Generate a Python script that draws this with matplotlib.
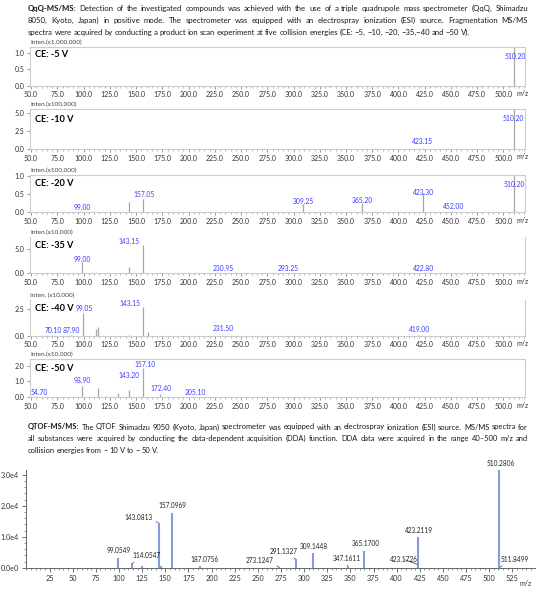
import matplotlib
matplotlib.use("Agg")
import matplotlib.pyplot as plt
from matplotlib.ticker import MultipleLocator, FixedLocator, FormatStrFormatter

plt.rcParams["font.family"] = ["Lato", "DejaVu Sans"]

# ---- QqQ product ion spectra (intensity in units of the panel scale) ----
ce_labels = ["CE: -5 V", "CE: -10 V", "CE: -20 V", "CE: -35 V", "CE: -40 V", "CE: -50 V"]
scale_labels = ["Inten.(x1,000,000)", "Inten.(x100,000)", "Inten.(x100,000)",
                "Inten.(x10,000)", "Inten. (x10,000)", "Inten.(x10,000)"]
y_tops = [1.19, 5.66, 1.03, 7.5, 3.34, 2.4]
y_ticks = [[0.0, 0.5, 1.0], [0.0, 2.5, 5.0], [0.0, 0.5, 1.0], [0.0, 5.0], [0.0, 2.5], [0.0, 1.0, 2.0]]

mz_05 = [510.20]
int_05 = [1.19]
mz_10 = [423.15, 510.20]
int_10 = [0.12, 5.66]
mz_20 = [99.00, 143.10, 157.05, 309.25, 365.20, 423.30, 452.00, 510.20]
int_20 = [0.03, 0.28, 0.37, 0.22, 0.26, 0.52, 0.02, 1.03]
mz_35 = [99.00, 143.15, 157.10, 230.95, 293.25, 422.80]
int_35 = [2.3, 1.25, 5.9, 0.08, 0.12, 0.08]
mz_40 = [70.10, 87.90, 99.05, 111.5, 113.5, 143.15, 157.10, 161.0, 231.50, 419.00]
int_40 = [0.06, 0.06, 2.1, 0.6, 0.84, 0.1, 2.72, 0.37, 0.06, 0.06]
mz_50 = [54.70, 98.90, 114.1, 121.4, 133.2, 143.20, 157.10, 172.40, 205.10]
int_50 = [0.04, 0.72, 0.57, 0.1, 0.27, 0.46, 1.84, 0.2, 0.04]

# peak labels: text, m/z where it is written, height where it is written
lab_05 = [("510.20", 511.0, 0.89)]
lab_10 = [("423.15", 422.7, 1.08), ("510.20", 509.4, 4.26)]
lab_20 = [("99.00", 99.2, 0.13), ("157.05", 157.6, 0.48), ("309.25", 309.3, 0.30),
          ("365.20", 365.5, 0.32), ("423.30", 423.6, 0.55), ("452.00", 452.2, 0.15),
          ("510.20", 510.3, 0.77)]
lab_35 = [("99.00", 98.8, 2.9), ("143.15", 143.3, 6.6), ("230.95", 232.6, 0.9),
          ("293.25", 295.0, 1.04), ("422.80", 423.6, 1.0)]
lab_40 = [("70.10", 71.2, 0.5), ("87.90", 88.7, 0.5), ("99.05", 100.7, 2.5),
          ("143.15", 144.3, 3.03), ("231.50", 233.1, 0.69), ("419.00", 419.6, 0.6)]
lab_50 = [("54.70", 57.9, 0.32), ("98.90", 99.2, 1.03), ("143.20", 143.6, 1.35),
          ("157.10", 158.5, 2.05), ("172.40", 173.5, 0.54), ("205.10", 206.2, 0.32)]

# ---- QTOF MS/MS spectrum ----
qtof_mz = [99.0549, 114.0547, 125.0, 143.0813, 145.0, 157.0969, 187.0756, 273.1247,
           291.1327, 309.1448, 347.1611, 365.1700, 423.1726, 423.2119, 510.2806, 511.8499]
qtof_int = [3250, 1400, 450, 14600, 700, 17800, 400, 300,
            2700, 4600, 700, 5500, 1000, 9800, 31600, 300]
# label text, written at (x, y), leader to the peak or not
qtof_lab = [("99.0549", 100, 5700, False), ("114.0547", 130, 3850, True),
            ("143.0813", 121, 16300, True), ("157.0969", 157.5, 20000, False),
            ("187.0756", 192, 2750, False), ("273.1247", 252, 2300, True),
            ("291.1327", 278, 5300, True), ("309.1448", 310, 6900, False),
            ("347.1611", 346, 2900, True), ("365.1700", 366.5, 7700, False),
            ("423.1726", 408, 2650, True), ("423.2119", 424, 11950, False),
            ("510.2806", 513, 33800, False), ("511.8499", 528, 2750, True)]

header_lines = [
    "QqQ-MS/MS: Detection of the investigated compounds was achieved with the use of a triple quadrupole mass spectrometer (QqQ, Shimadzu",
    "8050, Kyoto, Japan) in positive mode. The spectrometer was equipped with an electrospray ionization (ESI) source. Fragmentation MS/MS",
    "spectra were acquired by conducting a product ion scan experiment at five collision energies (CE: \u22125, \u221210, \u221220, \u221235,\u221240 and \u221250 V).",
]
qtof_lines = [
    "QTOF-MS/MS: The QTOF Shimadzu 9050 (Kyoto, Japan) spectrometer was equipped with an electrospray ionization (ESI) source. MS/MS spectra for",
    "all substances were acquired by conducting the data-dependent acquisition (DDA) function. DDA data were acquired in the range 40\u2013500 m/z and",
    "collision energies from \u2212 10 V to \u2212 50 V.",
]

W, H = 550, 595
X0, X1 = 28, 528
fig = plt.figure(figsize=(W / 100, H / 100), dpi=100)
rend = fig.canvas.get_renderer()


def px_box(l, t, r, b):
    return [l / W, 1 - b / H, (r - l) / W, (b - t) / H]


def paragraph(lines, y0, dy, fill):
    # font size: the widest justified line, set with plain spaces, fills `fill` of the block
    widest = 0
    for line in lines[:-1]:
        probe = fig.text(0, 0, line, fontsize=6)
        widest = max(widest, probe.get_window_extent(rend).width)
        probe.remove()
    size = 6 * fill * (X1 - X0) / widest
    for i, line in enumerate(lines):
        y = 1 - (y0 + i * dy) / H
        words = line.split(" ")
        arts = []
        for j, w in enumerate(words):
            arts.append(fig.text(0, y, w, fontsize=size, va="center", color="#1a1a1a",
                                 fontweight="bold" if (i == 0 and j == 0) else "normal"))
        widths = [a.get_window_extent(rend).width for a in arts]
        if i == len(lines) - 1:
            gap = size * 0.3
        else:
            gap = (X1 - X0 - sum(widths)) / (len(words) - 1)
        x = X0
        for a, wd in zip(arts, widths):
            a.set_x(x / W)
            x += wd + gap


paragraph(header_lines, 8.5, 11.8, 0.975)
paragraph(qtof_lines, 427, 11.8, 0.985)

# ---- six QqQ panels ----
tops = [47, 108.7, 175, 237.3, 300, 359.3]
bottoms = [85.7, 149, 212.3, 273.3, 335.7, 397.3]
ce_y = [54.7, 119, 184, 245, 308.3, 368.3]
all_mz = [mz_05, mz_10, mz_20, mz_35, mz_40, mz_50]
all_int = [int_05, int_10, int_20, int_35, int_40, int_50]
all_lab = [lab_05, lab_10, lab_20, lab_35, lab_40, lab_50]

for k in range(6):
    ax = fig.add_axes(px_box(30, tops[k], 525, bottoms[k]))
    ax.vlines(all_mz[k], 0, all_int[k], color="#a6a6a6", lw=0.9)
    ax.set_xlim(49, 520.5)
    ax.set_ylim(0, y_tops[k])
    ax.xaxis.set_major_locator(MultipleLocator(25))
    ax.xaxis.set_minor_locator(MultipleLocator(5))
    ax.xaxis.set_major_formatter(FormatStrFormatter("%.1f"))
    ax.yaxis.set_major_locator(FixedLocator(y_ticks[k]))
    ax.yaxis.set_major_formatter(FormatStrFormatter("%.1f"))
    ax.tick_params(which="major", labelsize=5, colors="#888888", labelcolor="#333333",
                   length=2.5, width=0.6, pad=1.5)
    ax.tick_params(which="minor", colors="#999999", length=1.3, width=0.5)
    for s in ax.spines.values():
        s.set_color("#cccccc")
        s.set_linewidth(0.8)
    if k in (3, 4):
        ax.spines["top"].set_visible(False)
    for txt, x, y in all_lab[k]:
        ax.text(x, y, txt, ha="center", va="center", fontsize=4.9, color="#3b3bff")
    fig.text(35 / W, 1 - ce_y[k] / H, ce_labels[k], fontsize=6.6, fontweight="bold", va="center")
    fig.text(30 / W, 1 - (tops[k] - 4.5) / H, scale_labels[k], fontsize=4.6,
             color="#444444", va="center")
    fig.text(523 / W, 1 - (bottoms[k] + 8) / H, "m/z", fontsize=5, color="#333333",
             ha="center", va="center")

# ---- QTOF panel ----
axq = fig.add_axes(px_box(26, 470, 535, 567.7))
axq.vlines(qtof_mz, 0, qtof_int, color="#7f9fd6", lw=1.5)
axq.set_xlim(-0.5, 549.5)
axq.set_ylim(0, 31600)
axq.xaxis.set_major_locator(FixedLocator(list(range(25, 526, 25))))
axq.xaxis.set_minor_locator(MultipleLocator(5))
axq.yaxis.set_major_locator(FixedLocator([0, 10000, 20000, 30000]))
axq.set_yticklabels(["0.0e0", "1.0e4", "2.0e4", "3.0e4"])
axq.yaxis.set_minor_locator(MultipleLocator(2000))
axq.tick_params(which="major", labelsize=5.2, colors="#555555", labelcolor="#333333",
                length=3, width=0.6, pad=2)
axq.tick_params(which="minor", colors="#666666", length=1.6, width=0.5)
axq.spines["top"].set_visible(False)
axq.spines["right"].set_visible(False)
for s in ("left", "bottom"):
    axq.spines[s].set_color("#666666")
    axq.spines[s].set_linewidth(0.7)

peak_h = dict(zip(qtof_mz, qtof_int))
for txt, x, y, leader in qtof_lab:
    if leader:
        m = float(txt)
        axq.annotate(txt, xy=(m, peak_h[m]), xytext=(x, y), ha="center", va="center",
                     fontsize=4.7, color="#222222", annotation_clip=False,
                     arrowprops=dict(arrowstyle="-", lw=0.5, color="#333333",
                                     shrinkA=0.5, shrinkB=0.5))
    else:
        axq.text(x, y, txt, ha="center", va="center", fontsize=4.7, color="#222222",
                 clip_on=False)
fig.text(526 / W, 1 - 584 / H, "m/z", fontsize=5, color="#333333", ha="center", va="center")

fig.savefig("out.png", dpi=100)
